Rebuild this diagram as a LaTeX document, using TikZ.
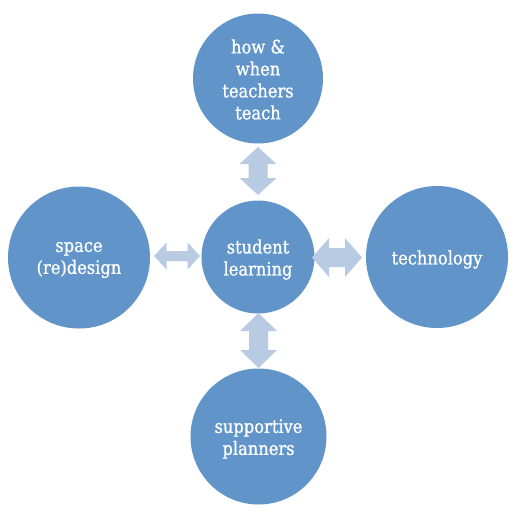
\documentclass[tikz,border=0pt]{standalone}
\usepackage{fontspec}
\setmainfont{DejaVu Serif}[FakeStretch=0.88,FakeBold=0.9]
\definecolor{circblue}{HTML}{6195C9}
\definecolor{arrblue}{HTML}{B9CBE3}
\newcommand\vdarrow[6]{% cx, y1, y2, half head, half shaft, head length
  \fill[arrowfill] ({#1},{#2}) -- ({#1+#4},{#2+#6}) -- ({#1+#5},{#2+#6}) -- ({#1+#5},{#3-#6})
    -- ({#1+#4},{#3-#6}) -- ({#1},{#3}) -- ({#1-#4},{#3-#6}) -- ({#1-#5},{#3-#6})
    -- ({#1-#5},{#2+#6}) -- ({#1-#4},{#2+#6}) -- cycle;}
\newcommand\hdarrow[6]{% cy, x1, x2, half head, half shaft, head length
  \fill[arrowfill] ({#2},{#1}) -- ({#2+#6},{#1-#4}) -- ({#2+#6},{#1-#5}) -- ({#3-#6},{#1-#5})
    -- ({#3-#6},{#1-#4}) -- ({#3},{#1}) -- ({#3-#6},{#1+#4}) -- ({#3-#6},{#1+#5})
    -- ({#2+#6},{#1+#5}) -- ({#2+#6},{#1+#4}) -- cycle;}
\begin{document}
\begin{tikzpicture}[x=1pt,y=-1pt,
  topic/.style={circle,fill=circblue,draw=none,inner sep=0pt},
  lbl/.style={text=white,align=center,inner sep=0pt,yshift=-2.5pt,
    font=\fontsize{18.5}{22}\selectfont},
  arrowfill/.style={fill=arrblue}]
\useasboundingbox (0,0) rectangle (524,515);
\node[topic,minimum size=130pt,label={[lbl,yshift=1.5pt]center:{how \&\\when\\teachers\\teach}}] (top) at (258,78.5) {};
\node[topic,minimum size=113pt,label={[lbl]center:{student\\learning}}] (center) at (258,257) {};
\node[topic,minimum size=142pt,label={[lbl]center:{space\\(re)design}}] (left) at (79,257.5) {};
\node[topic,minimum size=142pt,label={[lbl]center:{technology}}] (right) at (437,257) {};
\node[topic,minimum size=136pt,label={[lbl]center:{supportive\\planners}}] (bottom) at (258.5,436.5) {};
\vdarrow{258}{147}{195}{18.5}{9.5}{17}
\vdarrow{258.5}{313}{368}{18.5}{9.5}{18}
\hdarrow{256}{154}{200}{13.5}{5}{12.5}
\hdarrow{257.5}{312}{362}{19.5}{9.5}{17}
\end{tikzpicture}
\end{document}
